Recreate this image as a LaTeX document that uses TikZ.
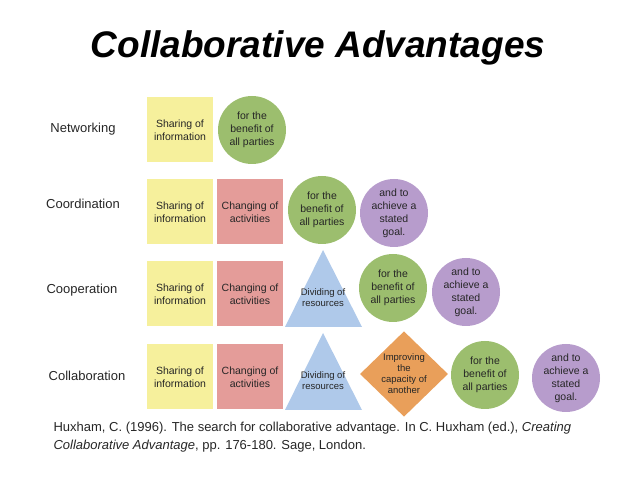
\documentclass[tikz,border=0pt]{standalone}
\usepackage{fontspec}
\setmainfont{Liberation Sans}
\usetikzlibrary{shapes.geometric}
\definecolor{cy}{HTML}{F6F09C}
\definecolor{cr}{HTML}{E49C99}
\definecolor{cg}{HTML}{9CBE6E}
\definecolor{cp}{HTML}{B79CCC}
\definecolor{cb}{HTML}{AFC9EA}
\definecolor{co}{HTML}{E99F5A}
\begin{document}
\begin{tikzpicture}[x=1pt,y=-1pt,
  txt/.style={font=\fontsize{10.5}{13}\selectfont,align=center,text=black!85},
  sq/.style={txt,minimum width=66pt,minimum height=65pt,inner sep=1pt},
  ysq/.style={sq,fill=cy},
  rsq/.style={sq,fill=cr},
  gc/.style={txt,circle,fill=cg,minimum size=68pt,inner sep=0pt},
  pc/.style={txt,circle,fill=cp,minimum size=68pt,inner sep=0pt},
  rowlab/.style={font=\fontsize{13}{15}\selectfont,text=black!85},
  tri/.style={fill=cb},
  dia/.style={txt,diamond,fill=co,minimum width=88pt,minimum height=80pt,inner sep=0pt,font=\fontsize{9.5}{11}\selectfont}]
\useasboundingbox (0,0) rectangle (638,478);
\node[font=\bfseries\itshape\fontsize{37}{42}\selectfont] (title) at (318,48) {Collaborative Advantages};
% row 1
\node[rowlab] (l1) at (83,129) {Networking};
\node[ysq] (y1) at (180,130) {Sharing of\\information};
\node[gc] (g1) at (252,130) {for the\\benefit of\\all parties};
% row 2
\node[rowlab] (l2) at (83,204) {Coordination};
\node[ysq] (y2) at (180,212) {Sharing of\\information};
\node[rsq] (r2) at (250,212) {Changing of\\activities};
\node[gc] (g2) at (322,210) {for the\\benefit of\\all parties};
\node[pc] (p2) at (394,213) {and to\\achieve a\\stated\\goal.};
% row 3
\node[rowlab] (l3) at (82,290) {Cooperation};
\node[ysq] (y3) at (180,294) {Sharing of\\information};
\node[rsq] (r3) at (250,294) {Changing of\\activities};
\fill[tri] (323,250) -- (362,327) -- (285,327) -- cycle;
\node[txt,font=\fontsize{9.5}{11}\selectfont] (t3) at (323,298) {Dividing of\\resources};
\node[gc] (g3) at (393,288) {for the\\benefit of\\all parties};
\node[pc] (p3) at (466,292) {and to\\achieve a\\stated\\goal.};
% row 4
\node[rowlab] (l4) at (87,376) {Collaboration};
\node[ysq] (y4) at (180,377) {Sharing of\\information};
\node[rsq] (r4) at (250,377) {Changing of\\activities};
\fill[tri] (323,333) -- (362,410) -- (285,410) -- cycle;
\node[txt,font=\fontsize{9.5}{11}\selectfont] (t4) at (323,381) {Dividing of\\resources};
\node[dia] (d4) at (404,374) {Improving\\the\\capacity of\\another};
\node[gc] (g4) at (485,375) {for the\\benefit of\\all parties};
\node[pc] (p4) at (566,378) {and to\\achieve a\\stated\\goal.};
% citation
\node[anchor=north west,align=left,font=\fontsize{13}{18}\selectfont,text=black!85] (cite) at (50,419) {Huxham, C. (1996). The search for collaborative advantage. In C. Huxham (ed.), \textit{Creating}\\\textit{Collaborative Advantage}, pp. 176-180. Sage, London.};
\end{tikzpicture}
\end{document}
